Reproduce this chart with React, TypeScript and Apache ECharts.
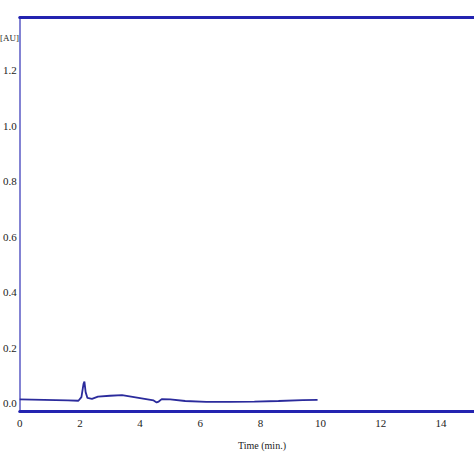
import React, { useEffect, useRef } from "react";
import * as echarts from "echarts";

const timeMin = [0, 0.8, 1.6, 1.95, 2.05, 2.12, 2.15, 2.19, 2.25, 2.4, 2.6, 3.0, 3.4, 3.7, 4.1, 4.45, 4.55, 4.62, 4.72, 5.0, 5.5, 6.2, 7.0, 7.8, 8.6, 9.4, 9.9];
const absorbance = [0.014, 0.012, 0.01, 0.009, 0.022, 0.07, 0.078, 0.04, 0.019, 0.016, 0.024, 0.027, 0.029, 0.024, 0.017, 0.01, 0.003, 0.006, 0.015, 0.014, 0.008, 0.005, 0.005, 0.006, 0.008, 0.011, 0.012];
const xTicks = [0, 2, 4, 6, 8, 10, 12, 14];
const yTicks = [0, 0.2, 0.4, 0.6, 0.8, 1.0, 1.2];
const xTitle = "Time (min.)";
const yTitle = "[AU]";

export default function App() {
  const ref = useRef<HTMLDivElement>(null);
  useEffect(() => {
    if (!ref.current) return;
    const chart = echarts.init(ref.current, null, { renderer: "svg" });
    const font = "Liberation Serif";
    chart.setOption({
      animation: false,
      backgroundColor: "#ffffff",
      grid: { left: 15, right: 0, top: 17, bottom: 63, containLabel: false },
      xAxis: [
        {
          type: "value",
          min: 0,
          max: 15.1,
          position: "bottom",
          axisLine: { show: true, onZero: false, lineStyle: { color: "#2323b0", width: 3 } },
          axisTick: { show: false },
          splitLine: { show: false },
          axisLabel: {
            customValues: xTicks,
            margin: 6,
            fontFamily: font,
            fontSize: 11,
            color: "#222",
            formatter: (v: number) => String(v),
          },
        },
        {
          type: "value",
          min: 0,
          max: 15.1,
          position: "top",
          axisLine: { show: true, onZero: false, lineStyle: { color: "#2323b0", width: 3 } },
          axisTick: { show: false },
          splitLine: { show: false },
          axisLabel: { show: false },
        },
      ],
      yAxis: {
        type: "value",
        min: -0.028,
        max: 1.392,
        axisLine: { show: true, onZero: false, lineStyle: { color: "#5a5ac4", width: 1.5 } },
        axisTick: { show: false },
        splitLine: { show: false },
        axisLabel: {
          customValues: yTicks,
          margin: 3,
          fontFamily: font,
          fontSize: 11,
          color: "#222",
          formatter: (v: number) => v.toFixed(1),
        },
      },
      graphic: [
        {
          type: "text",
          left: 0,
          top: 33,
          style: { text: yTitle, fontFamily: font, fontSize: 9, fill: "#222" },
        },
        {
          type: "text",
          left: 238,
          top: 440,
          style: { text: xTitle, fontFamily: font, fontSize: 10, fill: "#222" },
        },
      ],
      series: [
        {
          type: "line",
          xAxisIndex: 0,
          data: timeMin.map((t, i) => [t, absorbance[i]]),
          showSymbol: false,
          smooth: false,
          lineStyle: { color: "#2b2b9c", width: 1.8 },
        },
      ],
    });
    return () => chart.dispose();
  }, []);
  return <div ref={ref} style={{ width: 474, height: 474, position: "absolute", left: 0, top: 0 }} />;
}
